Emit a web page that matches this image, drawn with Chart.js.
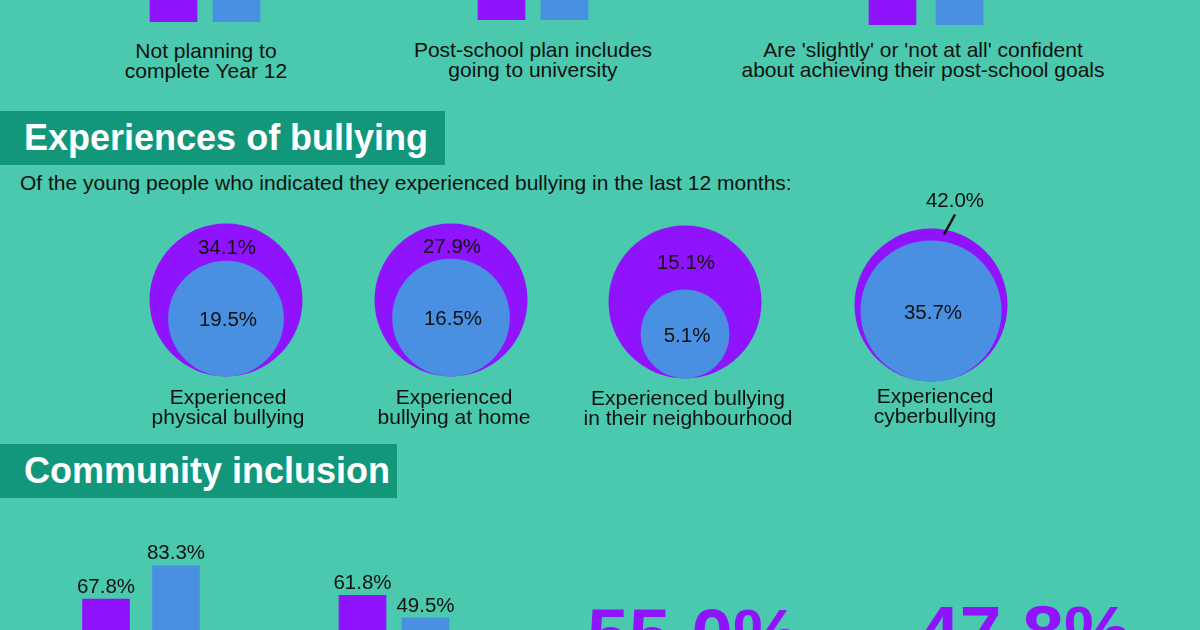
<!DOCTYPE html>
<html>
<head>
<meta charset="utf-8">
<script src="https://cdn.jsdelivr.net/npm/chart.js@4.4.0/dist/chart.umd.min.js"></script>
<style>
  body { margin: 0; background: #4ac9ae; }
  #page { position: relative; width: 1200px; height: 630px; overflow: hidden; background: #4ac9ae;
          font-family: "Liberation Sans", Arial, sans-serif; color: #111; }
  #page canvas, .txt, .band, .big { position: absolute; }
  .txt { font-size: 21px; line-height: 20px; text-align: center; white-space: nowrap; }
  .band { left: 0; height: 54px; line-height: 54px; background: #12977a; color: #fff;
          font-weight: bold; font-size: 36px; padding-left: 24px; box-sizing: border-box; white-space: nowrap; }
  .sub { font-size: 21px; line-height: 20px; text-align: left; }
  .big { font-size: 75px; line-height: 75px; font-weight: bold; color: #9013fe; white-space: nowrap; }
</style>
</head>
<body>
<div id="page">
  <canvas id="top1" width="126" height="122" style="left:142px;top:-100px"></canvas>
  <canvas id="top2" width="126" height="120" style="left:470px;top:-100px"></canvas>
  <canvas id="top3" width="134" height="125" style="left:859px;top:-100px"></canvas>
  <div class="txt" id="cap-top1" style="left:56px;top:41px;width:300px"></div>
  <div class="txt" id="cap-top2" style="left:383px;top:40px;width:300px"></div>
  <div class="txt" id="cap-top3" style="left:723px;top:40px;width:400px"></div>

  <div class="band" style="top:111px;width:445px">Experiences of bullying</div>
  <div class="txt sub" style="left:20px;top:173px">Of the young people who indicated they experienced bullying in the last 12 months:</div>

  <canvas id="bub1" width="200" height="240" style="left:126px;top:180px"></canvas>
  <canvas id="bub2" width="200" height="240" style="left:351px;top:180px"></canvas>
  <canvas id="bub3" width="200" height="240" style="left:585px;top:182px"></canvas>
  <canvas id="bub4" width="200" height="240" style="left:831px;top:185px"></canvas>
  <div class="txt" id="cap-bub1" style="left:78px;top:387px;width:300px"></div>
  <div class="txt" id="cap-bub2" style="left:304px;top:387px;width:300px"></div>
  <div class="txt" id="cap-bub3" style="left:538px;top:388px;width:300px"></div>
  <div class="txt" id="cap-bub4" style="left:785px;top:386px;width:300px"></div>

  <div class="band" style="top:444px;width:397px">Community inclusion</div>

  <canvas id="inc1" width="140" height="225" style="left:71px;top:520px"></canvas>
  <canvas id="inc2" width="126" height="189" style="left:331px;top:520px"></canvas>
  <div class="big" id="big1" style="left:587px;top:598px"></div>
  <div class="big" id="big2" style="left:918px;top:595px"></div>
</div>
<script>
// two groups compared in every panel: purple first, blue second
const seriesKeys = ['purple', 'blue'];
const barColors = ['#9013fe', '#4a90e2'];

// top panels (bars are cut off by the top edge, heights estimated)
const planCaptions = [
  ['Not planning to', 'complete Year 12'],
  ['Post-school plan includes', 'going to university'],
  ["Are 'slightly' or 'not at all' confident", 'about achieving their post-school goals']
];
const notYear12 = [28.0, 17.0];
const university = [30.0, 45.0];
const notConfident = [36.0, 27.0];

// bullying bubbles: outer = all, inner = subgroup
const bullyCaptions = [
  ['Experienced', 'physical bullying'],
  ['Experienced', 'bullying at home'],
  ['Experienced bullying', 'in their neighbourhood'],
  ['Experienced', 'cyberbullying']
];
const bullyOuter = [34.1, 27.9, 15.1, 42.0];
const bullyInner = [19.5, 16.5, 5.1, 35.7];

// community inclusion
const inclusion1 = [67.8, 83.3];
const inclusion2 = [61.8, 49.5];
const inclusionBig = [55.0, 47.8];

const OUTER_R = 76.5;
const labelFont = '20.5px "Liberation Sans", Arial, sans-serif';

function setCaption(id, lines) {
  document.getElementById(id).innerHTML = lines.join('<br>');
}
planCaptions.forEach((c, i) => setCaption('cap-top' + (i + 1), c));
bullyCaptions.forEach((c, i) => setCaption('cap-bub' + (i + 1), c));
inclusionBig.forEach((v, i) => {
  document.getElementById('big' + (i + 1)).textContent = v.toFixed(1) + '%';
});

const barValueLabels = {
  id: 'barValueLabels',
  afterDatasetsDraw(chart, args, opts) {
    if (!opts.show) return;
    const ctx = chart.ctx;
    const ds = chart.data.datasets[0];
    ctx.save();
    ctx.font = labelFont;
    ctx.fillStyle = '#111';
    ctx.textAlign = 'center';
    ctx.textBaseline = 'middle';
    chart.getDatasetMeta(0).data.forEach((bar, i) => {
      ctx.fillText(ds.data[i].toFixed(1) + '%', bar.x, bar.y - 12);
    });
    ctx.restore();
  }
};

function barChart(id, values, max, showLabels) {
  new Chart(document.getElementById(id), {
    type: 'bar',
    data: {
      labels: seriesKeys,
      datasets: [{ data: values, backgroundColor: barColors, borderWidth: 0, barThickness: 47 }]
    },
    options: {
      responsive: false,
      animation: false,
      events: [],
      layout: { padding: 0 },
      plugins: {
        legend: { display: false },
        tooltip: { enabled: false },
        barValueLabels: { show: showLabels }
      },
      scales: {
        x: { display: false },
        y: { display: false, min: 0, max: max }
      }
    },
    plugins: [barValueLabels]
  });
}

barChart('top1', notYear12, 61, false);
barChart('top2', university, 60, false);
barChart('top3', notConfident, 62.5, false);
barChart('inc1', inclusion1, 104.6, true);
barChart('inc2', inclusion2, 102.7, true);

const bubbleLabels = {
  id: 'bubbleLabels',
  afterDatasetsDraw(chart) {
    const ctx = chart.ctx;
    const o = chart.getDatasetMeta(0).data[0];
    const n = chart.getDatasetMeta(1).data[0];
    const R = o.options.radius, r = n.options.radius;
    const outerVal = chart.data.datasets[0].value;
    const innerVal = chart.data.datasets[1].value;
    const outerTop = o.y - R, innerTop = n.y - r;
    ctx.save();
    ctx.font = labelFont;
    ctx.fillStyle = '#111';
    ctx.textAlign = 'center';
    ctx.textBaseline = 'middle';
    if (innerTop - outerTop > 30) {
      ctx.fillText(outerVal.toFixed(1) + '%', o.x + 1, (outerTop + innerTop) / 2 + 6);
    } else {
      ctx.fillText(outerVal.toFixed(1) + '%', o.x + 24, outerTop - 27);
      ctx.strokeStyle = '#111';
      ctx.lineWidth = 2.5;
      ctx.beginPath();
      ctx.moveTo(o.x + 24, outerTop - 14);
      ctx.lineTo(o.x + 13, outerTop + 6);
      ctx.stroke();
    }
    ctx.fillText(innerVal.toFixed(1) + '%', n.x + 2, n.y + 2);
    ctx.restore();
  }
};

function bubbleChart(id, outer, inner) {
  const canvas = document.getElementById(id);
  // bubble charts pad the chart area by the largest radius; keep one y unit per pixel
  const halfW = canvas.width / 2 - OUTER_R;
  const halfH = canvas.height / 2 - OUTER_R;
  const rIn = OUTER_R * Math.sqrt(inner / outer);
  new Chart(canvas, {
    type: 'bubble',
    data: {
      datasets: [
        // higher order is painted first, so the inner circle sits on top
        { value: outer, order: 1, data: [{ x: 0, y: 0, r: OUTER_R }], backgroundColor: barColors[0], borderWidth: 0, clip: false },
        { value: inner, order: 0, data: [{ x: 0, y: -(OUTER_R - rIn), r: rIn }], backgroundColor: barColors[1], borderWidth: 0, clip: false }
      ]
    },
    options: {
      responsive: false,
      animation: false,
      events: [],
      layout: { padding: 0 },
      plugins: { legend: { display: false }, tooltip: { enabled: false } },
      scales: {
        x: { display: false, min: -halfW, max: halfW },
        y: { display: false, min: -halfH, max: halfH }
      }
    },
    plugins: [bubbleLabels]
  });
}

bullyOuter.forEach((v, i) => bubbleChart('bub' + (i + 1), v, bullyInner[i]));
</script>
</body>
</html>
